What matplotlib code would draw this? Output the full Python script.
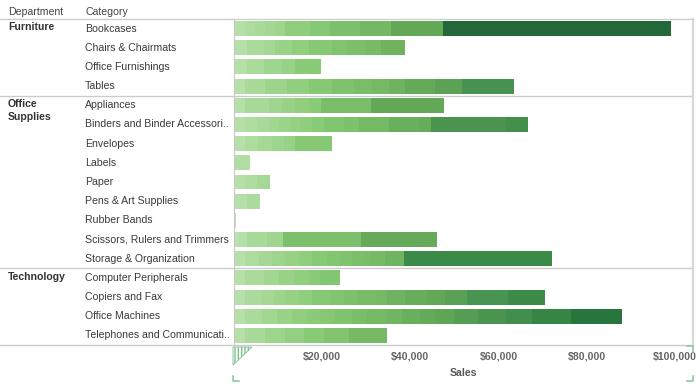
import matplotlib.pyplot as plt
import numpy as np
from matplotlib.colors import LinearSegmentedColormap, Normalize
from matplotlib.transforms import blended_transform_factory
from matplotlib.patches import Polygon

plt.rcParams['font.family'] = ['Liberation Sans', 'DejaVu Sans']
plt.rcParams['font.size'] = 7.6

# data: sales of the items that make up each category, in stacking order
departments = ['Furniture', 'Office\nSupplies', 'Technology']
dept_first_row = [0, 4, 13]

categories = ['Bookcases', 'Chairs & Chairmats', 'Office Furnishings', 'Tables',
              'Appliances', 'Binders and Binder Accessori..', 'Envelopes', 'Labels',
              'Paper', 'Pens & Art Supplies', 'Rubber Bands', 'Scissors, Rulers and Trimmers',
              'Storage & Organization',
              'Computer Peripherals', 'Copiers and Fax', 'Office Machines',
              'Telephones and Communicati..']

bookcases = [2670, 2260, 2260, 2260, 2270, 5650, 4530, 6780, 7020, 11690, 51570]
chairs = [3050, 3780, 2630, 3770, 3780, 5270, 3390, 4140, 3620, 5360]
office_furnishings = [3050, 3780, 4140, 3010, 5880]
tables = [2670, 4520, 4910, 4910, 5270, 4910, 4140, 3780, 3750, 6790, 6110, 11620]
appliances = [2670, 5290, 3010, 3010, 3030, 2850, 11310, 16370]
binders = [2670, 2650, 2640, 2260, 2630, 2260, 2650, 2640, 4530, 3390, 6790, 6780, 2850, 16830, 4980]
envelopes = [2670, 2870, 3170, 2650, 2620, 8300]
labels = [3800]
paper = [2670, 2650, 2870]
pens = [3000, 2990]
rubber_bands = [600]
scissors = [1180, 1870, 4530, 3620, 17640, 17120]
storage = [2670, 3030, 3010, 3010, 3030, 3010, 3390, 3010, 2640, 2650, 1490, 3260, 4300, 33700]
computer_peripherals = [2670, 4160, 3390, 3400, 3390, 2620, 4460]
copiers = [2670, 3780, 2640, 2630, 3030, 3010, 4140, 3030, 3010, 4300, 2480, 4140, 4910, 4140, 4910, 9340, 8300]
office_machines = [2670, 3780, 3390, 3390, 3400, 3000, 3390, 3780, 3390, 4530, 3390, 4140, 3400, 4160,
                   5430, 6330, 6020, 8910, 11530]
telephones = [2670, 4520, 4530, 4160, 4520, 5660, 8660]

segments = [bookcases, chairs, office_furnishings, tables, appliances, binders, envelopes, labels,
            paper, pens, rubber_bands, scissors, storage, computer_peripherals, copiers,
            office_machines, telephones]

xticks = [20000, 40000, 60000, 80000, 100000]

# colour = running total of sales (Tableau green)
cmap = LinearSegmentedColormap.from_list('tab_green', [
    (0.0, '#bfe4b2'), (0.03, '#b3dfa5'), (0.2, '#89cb76'), (0.35, '#75b964'),
    (0.48, '#62a857'), (0.64, '#47924f'), (0.73, '#3c8a48'), (0.89, '#28763d'),
    (1.0, '#226839')])
norm = Normalize(0, 99000)

W, H = 700, 389
fig = plt.figure(figsize=(W / 100, H / 100), dpi=100)
left, right, top, bottom = 233.5, 693, 19, 345
ax = fig.add_axes([left / W, 1 - bottom / H, (right - left) / W, (bottom - top) / H])

for i, seg in enumerate(segments):
    seg = np.array(seg)
    ends = np.cumsum(seg)
    starts = ends - seg
    ax.barh(np.full(len(seg), i), seg, left=starts, height=0.78,
            color=cmap(norm(ends)), edgecolor='none')

ax.set_ylim(len(categories) - 0.5, -0.5)
ax.set_xlim(0, 104000)
ax.set_yticks([])
ax.set_xticks(xticks)
ax.set_xticklabels([f'${v:,}' for v in xticks], color='#666666', fontweight='bold')
ax.tick_params(axis='x', length=0, pad=5)
ax.set_xlabel('Sales', color='#555555', fontweight='bold', labelpad=4)
for s in ['top', 'bottom']:
    ax.spines[s].set_visible(False)
ax.spines['left'].set_color('#c8c8c8')
ax.spines['right'].set_color('#d8d8d8')
ax.spines['right'].set_linewidth(1.6)

# row labels and separators across the whole width
tr = blended_transform_factory(fig.transFigure, ax.transData)
for i, c in enumerate(categories):
    fig.text(85 / W, i, c, transform=tr, va='center', ha='left', color='#3a3a3a')
for d, r in zip(departments, dept_first_row):
    fig.text(8 / W, r - 0.33, d, transform=tr, va='top', ha='left', color='#333333',
             fontweight='bold', linespacing=1.4)
for yv in [-0.5, 3.5, 12.5, 16.5]:
    ax.plot([-left / (right - left), 1], [yv, yv], transform=blended_transform_factory(ax.transAxes, ax.transData),
            color='#cccccc', lw=1.0, clip_on=False)

fig.text(8 / W, 1 - 12 / H, 'Department', va='center', ha='left', color='#444444')
fig.text(85 / W, 1 - 12 / H, 'Category', va='center', ha='left', color='#444444')

# tableau decorations at the corners of the axis area
def px(x, y):
    return (x / W, 1 - y / H)

fig.patches.append(Polygon([px(233, 347), px(252, 347), px(233, 365)], closed=True,
                           transform=fig.transFigure, facecolor='none', edgecolor='#7cc08f',
                           hatch='|||||', lw=0.6))
dec = '#8ccaa4'
for xs, ys in [([233, 233, 239], [376, 381, 381]), ([687, 693, 693], [381, 381, 376]),
               ([687, 693, 693], [346, 346, 352])]:
    fig.add_artist(plt.Line2D([x / W for x in xs], [1 - y / H for y in ys],
                              transform=fig.transFigure, color=dec, lw=1.2))

plt.savefig('out.png', dpi=100)
